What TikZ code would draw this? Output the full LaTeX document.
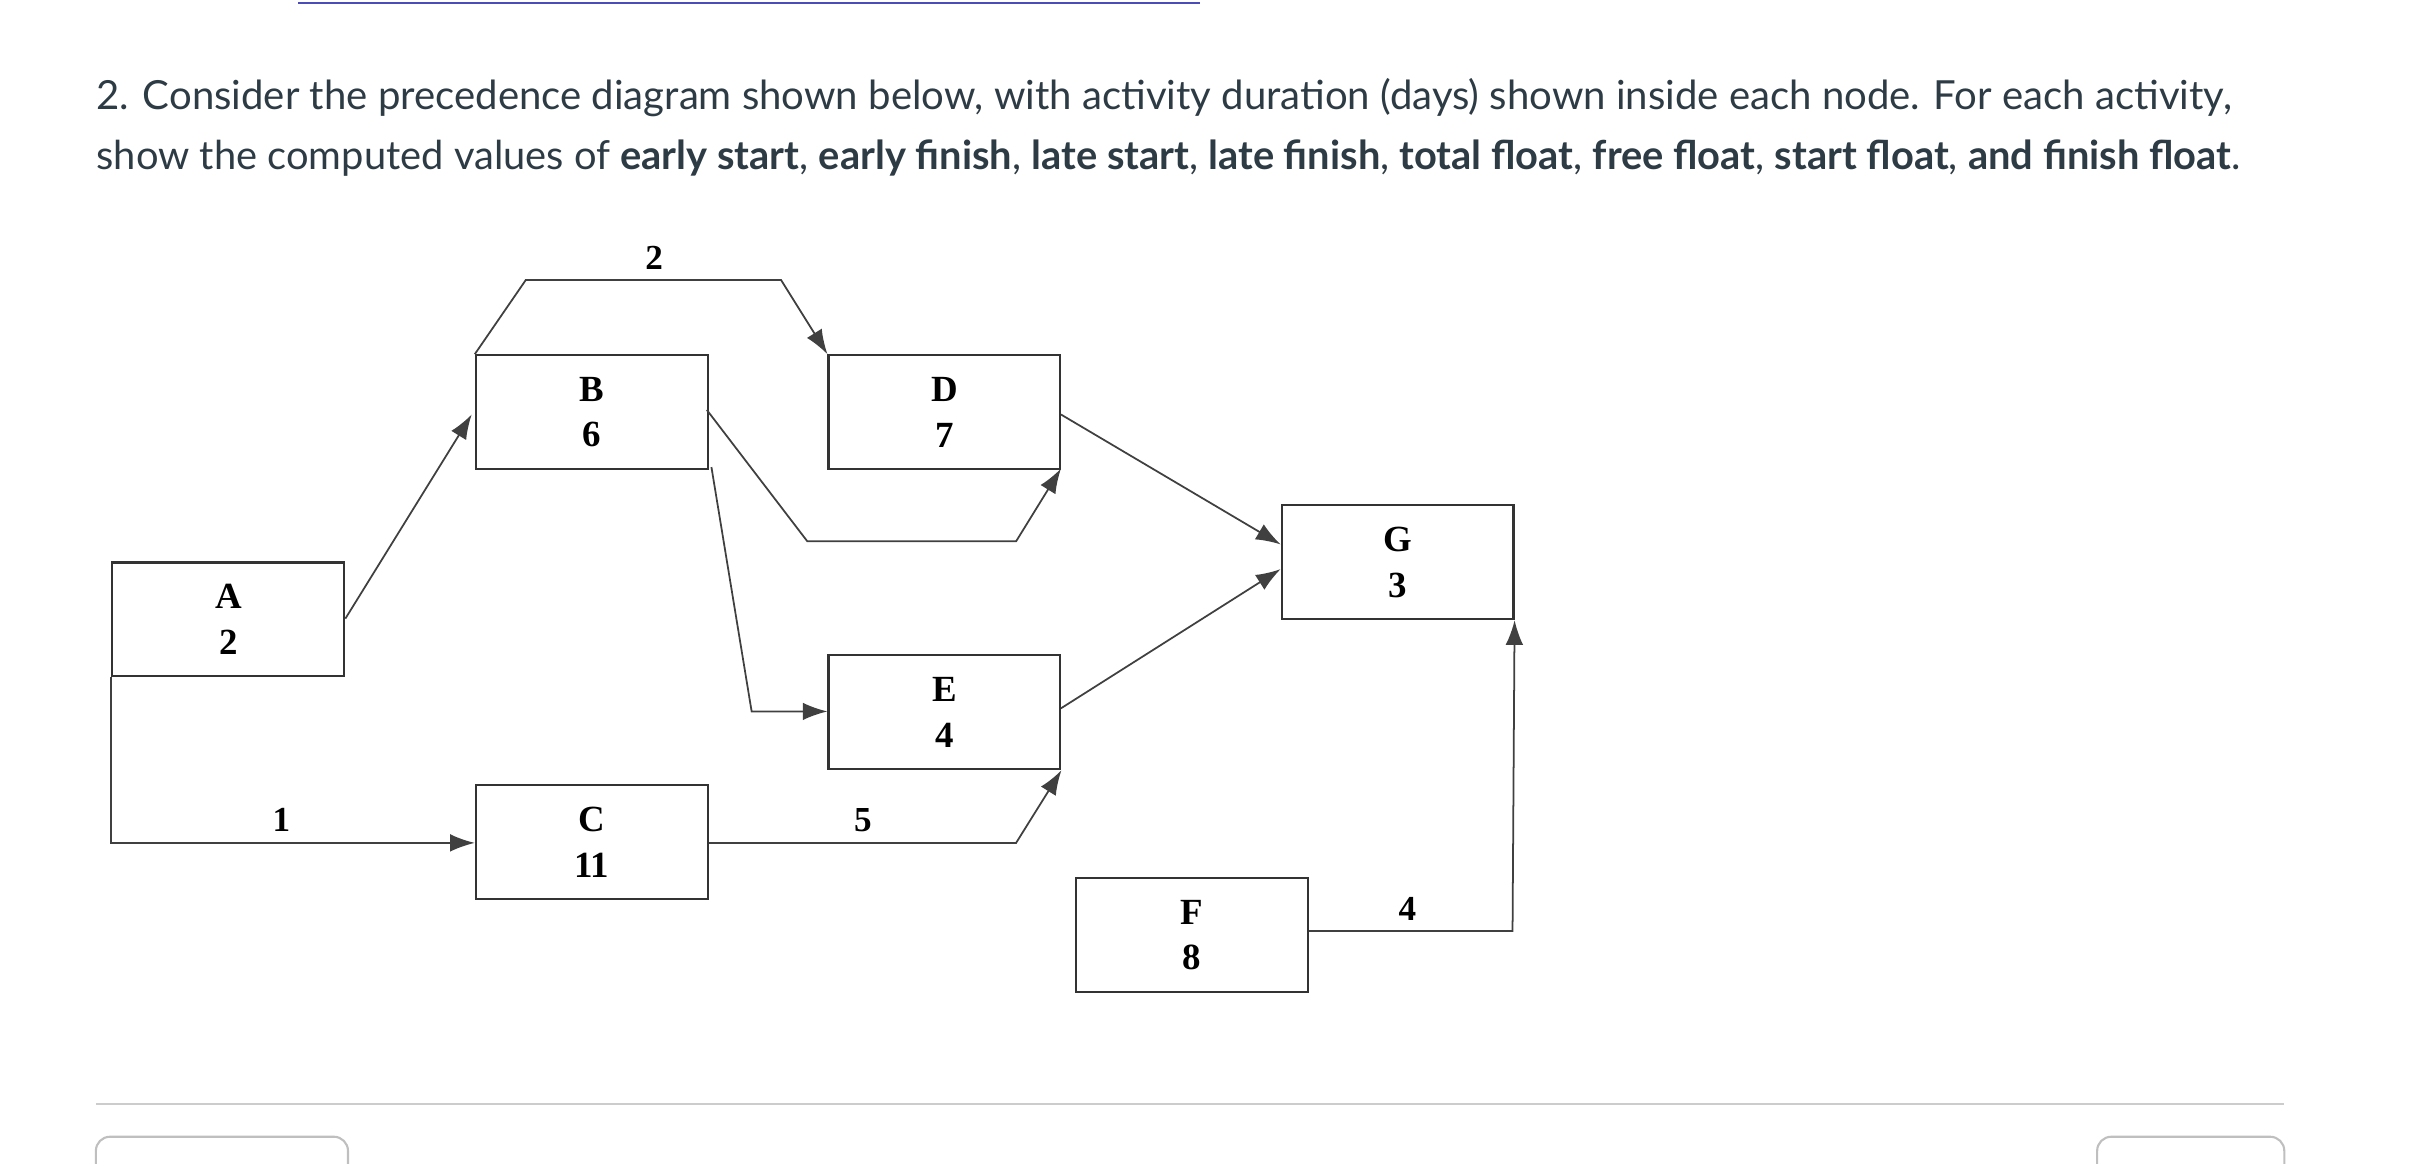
\documentclass[tikz,border=0pt]{standalone}
\usepackage{fontspec}
\setmainfont{Lato}
\newfontfamily\boxfont{Liberation Serif}
\usetikzlibrary{arrows.meta}
\definecolor{txt}{HTML}{2D3B45}
\tikzset{
 act/.style={draw=black!80,line width=0.6pt,minimum width=2.32cm,minimum height=1.14cm,inner sep=0pt,anchor=north west,align=center,font=\boxfont\fontsize{10.5}{13}\selectfont\bfseries},
 link/.style={draw=black!75,line width=0.5pt},
 arr/.style={link,-{Latex[length=7pt,width=5pt]}},
 lbl/.style={font=\boxfont\fontsize{10}{12}\selectfont\bfseries},
}
\begin{document}
\begin{tikzpicture}[x=0.01547cm,y=-0.01547cm]
\useasboundingbox (0,0) rectangle (1568,752);
\draw[draw=blue!60!black!70,line width=0.7pt] (193,2) -- (776,2);
\node[anchor=west,inner sep=0,text=txt] (t1) at (62,63) {\resizebox{21.36cm}{!}{2. Consider the precedence diagram shown below, with activity duration (days) shown inside each node. For each activity,}};
\node[anchor=west,inner sep=0,text=txt] (t2) at (62,102) {\resizebox{21.45cm}{!}{show the computed values of \textbf{early start}, \textbf{early finish}, \textbf{late start}, \textbf{late finish}, \textbf{total float}, \textbf{free float}, \textbf{start float}, \textbf{and finish float}.}};
\node[act] (B) at (307,229) {B\\6};
\node[act] (D) at (535,229) {D\\7};
\node[act] (A) at (72,363) {A\\2};
\node[act] (G) at (828,326) {G\\3};
\node[act] (E) at (535,423) {E\\4};
\node[act] (C) at (307,507) {C\\11};
\node[act] (F) at (695,567) {F\\8};
\coordinate (b1) at (340,181); \coordinate (b2) at (505,181);
\draw[arr] (A.east |- 0,400) -- (305,268);
\draw[arr] (B.north west) -- (b1) -- (b2) -- (D.north west);
\node[lbl] (l2) at (423,167) {2};
\coordinate (c1) at (522,350); \coordinate (c2) at (657,350);
\draw[arr] (457,265) -- (c1) -- (c2) -- (686,303);
\coordinate (d1) at (486,460);
\draw[arr] (460,302) -- (d1) -- (E.west |- 0,460);
\coordinate (e1) at (72,545);
\draw[arr] (A.south west) -- (e1) -- (C.west |- 0,545);
\node[lbl] (l1) at (182,530) {1};
\coordinate (f1) at (657,545);
\draw[arr] (C.east |- 0,545) -- (f1) -- (E.south east);
\node[lbl] (l5) at (558,530) {5};
\draw[arr] (686,268) -- (828,352);
\draw[arr] (686,458) -- (828,368);
\coordinate (g1) at (978,602);
\draw[arr] (F.east |- 0,602) -- (g1) -- (G.south east);
\node[lbl] (l4) at (910,588) {4};
\draw[black!20,line width=0.6pt] (62,714) -- (1477,714);
\draw[black!25,line width=0.6pt,rounded corners=4pt] (62,760) -- (62,735) -- (225,735) -- (225,760);
\draw[black!25,line width=0.6pt,rounded corners=4pt] (1356,760) -- (1356,735) -- (1477,735) -- (1477,760);
\end{tikzpicture}
\end{document}
